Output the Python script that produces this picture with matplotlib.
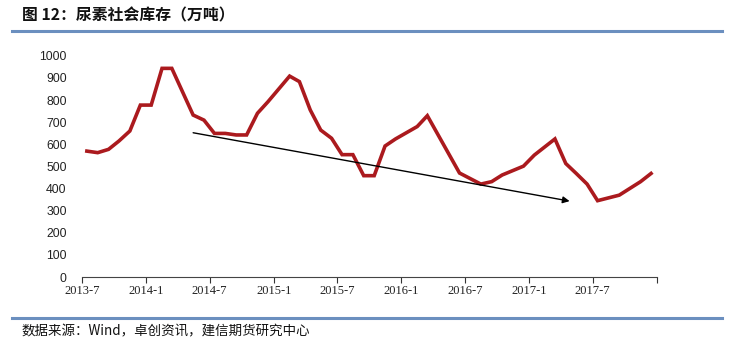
import matplotlib
matplotlib.use("Agg")
import matplotlib.pyplot as plt
import pandas as pd
from matplotlib.lines import Line2D

# ---- data ----
months = ["2013-07", "2013-08", "2013-09", "2013-10", "2013-11", "2013-12",
          "2014-01", "2014-02", "2014-03", "2014-05", "2014-06", "2014-07",
          "2014-08", "2014-09", "2014-10", "2014-11", "2014-12", "2015-02",
          "2015-03", "2015-04", "2015-05", "2015-06", "2015-07", "2015-08",
          "2015-09", "2015-10", "2015-11", "2015-12", "2016-02", "2016-03",
          "2016-06", "2016-08", "2016-09", "2016-10", "2016-12", "2017-01",
          "2017-03", "2017-04", "2017-05", "2017-06", "2017-07", "2017-09",
          "2017-11", "2017-12"]
inventory = [569, 562, 577, 615, 660, 777,
             777, 943, 943, 732, 709, 649,
             649, 642, 642, 740, 792, 908,
             883, 755, 664, 627, 553, 553,
             458, 458, 592, 624, 680, 729,
             470, 420, 431, 461, 501, 551,
             624, 513, 468, 420, 345, 370,
             431, 468]
tick_dates = ["2013-07", "2014-01", "2014-07", "2015-01", "2015-07",
              "2016-01", "2016-07", "2017-01", "2017-07", "2018-01"]
tick_labels = ["2013-7", "2014-1", "2014-7", "2015-1", "2015-7",
               "2016-1", "2016-7", "2017-1", "2017-7", ""]
trend_start = ("2014-05-15", 652)
trend_end = ("2017-04-26", 343)

title = "图 12：尿素社会库存（万吨）"
source = "数据来源：Wind，卓创资讯，建信期货研究中心"

# ---- figure ----
plt.rcParams['font.family'] = ['Noto Sans CJK SC', 'DejaVu Sans']
fig = plt.figure(figsize=(7.30, 3.42), dpi=100)
ax = fig.add_axes([0.1123, 0.19, 0.7877, 0.647])

x = pd.to_datetime([m + "-15" for m in months])
ax.plot(x, inventory, color="#ab1a1e", lw=2.6, solid_joinstyle="miter")

ax.annotate("", xy=(pd.Timestamp(trend_end[0]), trend_end[1]),
            xytext=(pd.Timestamp(trend_start[0]), trend_start[1]),
            arrowprops=dict(arrowstyle="-|>", color="black", lw=1.0,
                            mutation_scale=10, shrinkA=0, shrinkB=0))

ax.set_xlim(pd.Timestamp("2013-07-01"), pd.Timestamp("2018-01-01"))
ax.set_ylim(0, 1000)
ax.set_yticks(range(0, 1001, 100))
ax.set_xticks(pd.to_datetime([d + "-01" for d in tick_dates]))
ax.set_xticklabels(tick_labels, family="Liberation Serif", fontsize=9,
                   color="#222222")
for lab in ax.get_yticklabels():
    lab.set_family("Liberation Sans")
    lab.set_fontsize(8.8)
    lab.set_color("#222222")
ax.tick_params(axis="y", length=0, pad=11)
ax.tick_params(axis="x", direction="out", length=4, width=0.8,
               color="#333333", pad=2)
for s in ["left", "right", "top"]:
    ax.spines[s].set_visible(False)
ax.spines["bottom"].set_color("#444444")
ax.spines["bottom"].set_linewidth(0.8)

# header / footer
fig.text(22 / 730, 1 - 15 / 342, title, fontsize=11.4, fontweight="bold",
         va="center", ha="left", color="#111111")
fig.add_artist(Line2D([12 / 730, 722 / 730], [1 - 31 / 342, 1 - 31 / 342],
                      color="#6b8fbf", lw=2.2, transform=fig.transFigure))
fig.add_artist(Line2D([12 / 730, 722 / 730], [1 - 318 / 342, 1 - 318 / 342],
                      color="#6b8fbf", lw=2.2, transform=fig.transFigure))
fig.text(22 / 730, 1 - 331 / 342, source, fontsize=9.7,
         va="center", ha="left", color="#111111")

fig.savefig("out.png", dpi=100)
